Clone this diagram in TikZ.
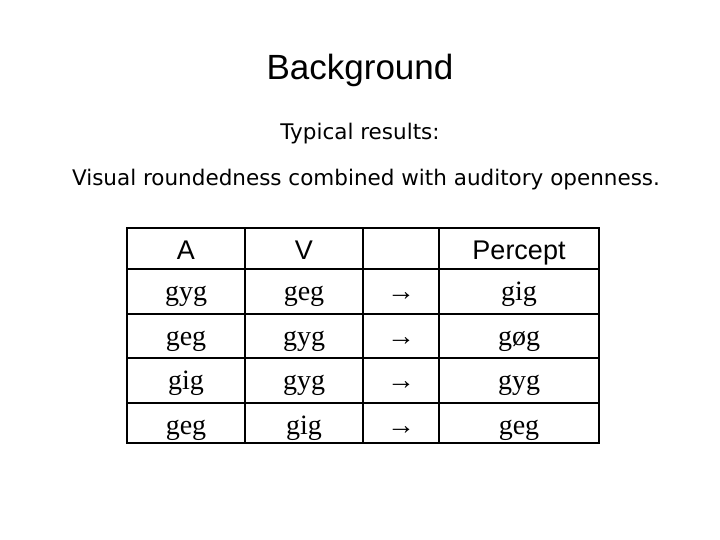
\documentclass[tikz,border=0pt]{standalone}
\usepackage{fontspec}
\setmainfont{Liberation Serif}
\setsansfont{Liberation Sans}
\newfontfamily\comicfont{DejaVu Sans}
\begin{document}
\begin{tikzpicture}[x=1pt,y=-1pt,
		cell/.style={anchor=base,font=\fontsize{28}{32}\selectfont},
		head/.style={anchor=base,font=\sffamily\fontsize{27}{32}\selectfont},
		grid/.style={line width=2pt}]
	\useasboundingbox (0,0) rectangle (720,540);
	% title and lead text
	\node[anchor=base,font=\sffamily\fontsize{35}{40}\selectfont] (title) at (360,80) {Background};
	\node[anchor=base,font=\comicfont\fontsize{21.5}{25}\selectfont] (typ) at (360,140) {Typical results:};
	\node[anchor=base,font=\comicfont\fontsize{21.5}{25}\selectfont] (vis) at (366,186) {Visual roundedness combined with auditory openness.};
	% table lines
	\draw[grid] (127,228) rectangle (599,443);
	\foreach \xx in {245,363,439} \draw[grid] (\xx,228) -- (\xx,443);
	\foreach \yy in {269,314,358,403} \draw[grid] (127,\yy) -- (599,\yy);
	% header
	\node[head] (hA) at (186,259) {A};
	\node[head] (hV) at (304,259) {V};
	\node[head] (hP) at (519,259) {Percept};
	% rows
	\foreach \r/\yy/\a/\v/\p in {1/300/gyg/geg/gig, 2/345/geg/gyg/gøg, 3/389/gig/gyg/gyg, 4/434/geg/gig/geg} {
		\node[cell] (a\r) at (186,\yy) {\a};
		\node[cell] (v\r) at (304,\yy) {\v};
		\node[cell] (arr\r) at (401,\yy) {\symbol{"2192}};
		\node[cell] (p\r) at (519,\yy) {\p};
	}
\end{tikzpicture}
\end{document}
